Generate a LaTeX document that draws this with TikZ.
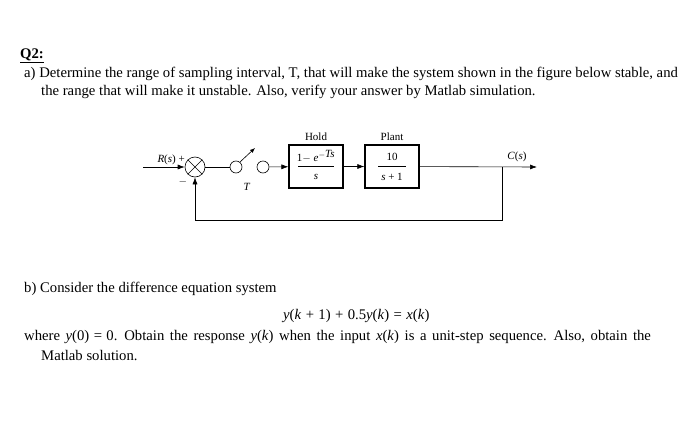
\documentclass[tikz,border=0pt]{standalone}
\usepackage{fontspec}
\setmainfont{Liberation Serif}
\usetikzlibrary{arrows.meta}
\newcommand{\mi}[1]{\textit{#1}}
\newcommand{\op}[1]{\hspace{0.3em}#1\hspace{0.3em}}
\begin{document}
\begin{tikzpicture}[x=1pt,y=-1pt,
  txt/.style={anchor=west,inner sep=0pt,font=\fontsize{14.7}{17}\selectfont},
  sm/.style={inner sep=0pt,font=\fontsize{11}{13}\selectfont},
  blk/.style={draw,line width=1.2pt,minimum width=54pt,minimum height=43pt,inner sep=0pt},
  sig/.style={line width=0.6pt},
  arr/.style={sig,-{Latex[length=7pt,width=5pt]}}]
\useasboundingbox (0,0) rectangle (700,428);
\node[txt] (q) at (20,56) {\textbf{\underline{Q2:}}};
\node[txt] (a1) at (24,74) {a) Determine the range of sampling interval, T, that will make the system shown in the figure below stable, and};
\node[txt] (a2) at (41,92) {the range that will make it unstable. Also, verify your answer by Matlab simulation.};
\node[txt] (b1) at (24,289) {b) Consider the difference equation system};
\node[txt] (eq) at (283,316) {\mi{y}(\mi{k}\op{+}1)\op{+}0.5\mi{y}(\mi{k})\op{=}\mi{x}(\mi{k})};
\node[txt] (w1) at (24,337) {\spaceskip=5.6pt plus 1pt where \mi{y}(0)\op{=}0. Obtain the response \mi{y}(\mi{k}) when the input \mi{x}(\mi{k}) is a unit-step sequence. Also, obtain the};
\node[txt] (w2) at (41,355) {Matlab solution.};
% diagram
\node[draw,circle,sig,minimum size=20pt,inner sep=0pt] (sum) at (195,167) {};
\draw[sig] (sum.45)--(sum.225) (sum.135)--(sum.315);
\coordinate (rin) at (143,167);
\node[sm,anchor=south east] (rl) at (185,165) {\mi{R}(\mi{s}) +};
\node[sm] (mn) at (183,182) {$-$};
\draw[arr] (rin)--(sum);
\node[draw,circle,sig,minimum size=12pt,inner sep=0pt] (s1) at (236,167) {};
\node[draw,circle,sig,minimum size=12pt,inner sep=0pt] (s2) at (263,167) {};
\coordinate (armA) at (240,162);
\coordinate (armB) at (255,148);
\draw[sig,-{Latex[length=5pt,width=4pt]}] (armA)--(armB);
\node[sm] (tl) at (247,187) {\mi{T}};
\draw[sig] (sum)--(s1);
\node[blk] (hold) at (316,166.5) {};
\node[sm] at (316,156) {1$-$ \mi{e}$^{-\textit{Ts}}$};
\draw[sig] (298,166.5)--(334,166.5);
\node[sm] at (316,177) {\mi{s}};
\node[sm,anchor=south] (hl) at (316,141) {Hold};
\node[blk] (plant) at (392,166.5) {};
\node[sm] at (392,157) {10};
\draw[sig] (378,166.5)--(406,166.5);
\node[sm] at (392,177) {\mi{s} + 1};
\node[sm,anchor=south] (pl) at (392,141) {Plant};
\draw[arr] (s2)--(hold);
\draw[arr] (hold)--(plant);
\coordinate (br) at (502,167);
\coordinate (out) at (537,167);
\coordinate (fb1) at (502,220);
\coordinate (fb2) at (195,220);
\draw[arr] (plant)--(out);
\node[sm] (cl) at (517,157) {\mi{C}(\mi{s})};
\draw[sig] (br)--(fb1)--(fb2);
\draw[arr] (fb2)--(sum);
\end{tikzpicture}
\end{document}
